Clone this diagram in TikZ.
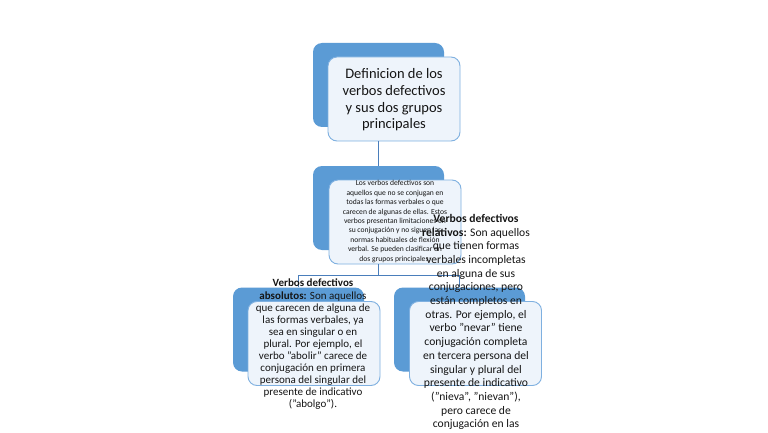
\documentclass[tikz,border=0pt]{standalone}
\usepackage{fontspec}
\setmainfont{Carlito}
\definecolor{boxblue}{HTML}{5B9BD5}
\definecolor{wfill}{HTML}{EEF4FB}
\definecolor{wline}{HTML}{7FB0E0}
\definecolor{conn}{HTML}{4A7EBB}
\definecolor{txt}{HTML}{151515}
\begin{document}
\begin{tikzpicture}[x=1pt,y=-1pt,
  bluebox/.style={fill=boxblue, draw=none, rounded corners=9pt, minimum width=131pt, minimum height=84pt, inner sep=0pt},
  whitebox/.style={fill=wfill, draw=wline, line width=0.9pt, rounded corners=9pt, minimum width=132pt, minimum height=84pt, inner sep=0pt},
  connector/.style={draw=conn, line width=0.8pt},
  label/.style={text=txt, align=center, inner sep=0pt}]
\fill[white] (0,0) rectangle (768,433);
\useasboundingbox (0,0) rectangle (768,433);
% blue back boxes
\node[bluebox] (b1) at (378.5,85) {};
\node[bluebox] (b2) at (378.5,208) {};
\node[bluebox] (b3) at (298.5,329.5) {};
\node[bluebox] (b4) at (459.5,329.5) {};
% white front boxes
\node[whitebox] (w1) at (394,99) {};
\node[whitebox] (w2) at (395,222) {};
\node[whitebox] (w3) at (314,343.5) {};
\node[whitebox] (w4) at (475.5,343.5) {};
% connectors
\coordinate (j) at (378.5,275);
\draw[connector] (w1.south -| b1.center) -- (b2.north);
\draw[connector] (w2.south -| b2.center) -- (j);
\draw[connector] (b3.north) -- (b3.north |- j) -- (b4.north |- j) -- (b4.north);
% texts
\node[label, font=\fontsize{14.5}{16.7}\selectfont] (t1) at (394,100) {Definicion de los\\verbos defectivos\\y sus dos grupos\\principales};
\node[label, font=\fontsize{7.6}{9.4}\selectfont] (t2) at (395,221.5) {Los verbos defectivos son\\aquellos que no se conjugan en\\todas las formas verbales o que\\carecen de algunas de ellas. Estos\\verbos presentan limitaciones en\\su conjugación y no siguen las\\normas habituales de flexión\\verbal. Se pueden clasificar en\\dos grupos principales:};
\node[label, font=\fontsize{11}{12.1}\selectfont] (t3) at (313,344.5) {\textbf{Verbos defectivos}\\\textbf{absolutos:} Son aquellos\\que carecen de alguna de\\las formas verbales, ya\\sea en singular o en\\plural. Por ejemplo, el\\verbo "abolir" carece de\\conjugación en primera\\persona del singular del\\presente de indicativo\\("abolgo").};
\node[label, font=\fontsize{11.6}{13.7}\selectfont] (t4) at (476,322) {\textbf{Verbos defectivos}\\\textbf{relativos:} Son aquellos\\que tienen formas\\verbales incompletas\\en alguna de sus\\conjugaciones, pero\\están completos en\\otras. Por ejemplo, el\\verbo "nevar" tiene\\conjugación completa\\en tercera persona del\\singular y plural del\\presente de indicativo\\("nieva", "nievan"),\\pero carece de\\conjugación en las};
\end{tikzpicture}
\end{document}
